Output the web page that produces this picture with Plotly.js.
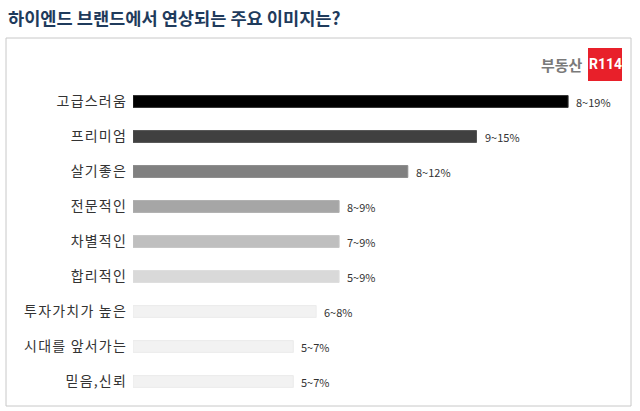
<!DOCTYPE html>
<html>
<head>
<meta charset="utf-8">
<script src="https://cdn.plot.ly/plotly-3.0.1.min.js"></script>
<style>
html,body{margin:0;padding:0;background:#fff;}
#chart{width:640px;height:411px;}
#chart .ytick text{letter-spacing:1.2px;}
</style>
</head>
<body>
<div id="chart"></div>
<script>
var categories = ["고급스러움","프리미엄","살기좋은","전문적인","차별적인","합리적인","투자가치가 높은","시대를 앞서가는","믿음,신뢰"];
var upperValues = [19, 15, 12, 9, 9, 9, 8, 7, 7];
var rangeLabels = ["8~19%","9~15%","8~12%","8~9%","7~9%","5~9%","6~8%","5~7%","5~7%"];
var barColors = ["#000000","#404040","#808080","#a6a6a6","#bfbfbf","#d9d9d9","#f2f2f2","#f2f2f2","#f2f2f2"];
var barEdges = ["#333333","#555555","#8c8c8c","#b0b0b0","#c6c6c6","#dedede","#ececec","#ececec","#ececec"];

var W = 640, H = 411;
var mL = 133, mR = 30, mT = 84, mB = 12;
var pw = W - mL - mR, ph = H - mT - mB;
function px(x){ return (x - mL) / pw; }
function py(y){ return (H - mB - y) / ph; }

var FONT = "Noto Sans CJK KR, Noto Sans, sans-serif";

var trace = {
  type: "bar",
  orientation: "h",
  y: categories,
  x: upperValues,
  marker: {color: barColors, line: {color: barEdges, width: 1}},
  width: 0.34,
  hoverinfo: "none"
};

var annotations = categories.map(function(c, i){
  return {
    x: upperValues[i], y: c, xref: "x", yref: "y",
    text: rangeLabels[i], showarrow: false,
    xanchor: "left", yanchor: "middle", xshift: 6,
    font: {family: FONT, size: 11, color: "#333333"}
  };
});

annotations.push({
  xref: "paper", yref: "paper", x: px(6), y: py(17),
  xanchor: "left", yanchor: "middle", showarrow: false,
  text: "<b>하이엔드 브랜드에서 연상되는 주요 이미지는?</b>",
  font: {family: FONT, size: 17.6, color: "#1f3b5c"}
});
annotations.push({
  xref: "paper", yref: "paper", x: px(585), y: py(64),
  xanchor: "right", yanchor: "middle", showarrow: false,
  text: "<b>부동산</b>",
  font: {family: FONT, size: 15, color: "#7a7a7a"}
});
annotations.push({
  xref: "paper", yref: "paper", x: px(605), y: py(64),
  xanchor: "center", yanchor: "middle", showarrow: false,
  text: "<b>R114</b>",
  font: {family: "Liberation Sans Narrow, Roboto, sans-serif", size: 14, color: "#ffffff"}
});

var shapes = [
  {type: "rect", xref: "paper", yref: "paper",
   x0: px(6), x1: px(631), y0: py(406), y1: py(38),
   line: {color: "#c8c8c8", width: 1}, fillcolor: "rgba(0,0,0,0)", layer: "below"},
  {type: "rect", xref: "paper", yref: "paper",
   x0: px(588), x1: px(622), y0: py(81), y1: py(48),
   line: {width: 0}, fillcolor: "#e8202a", layer: "below"}
];

var layout = {
  width: W, height: H,
  margin: {l: mL, r: mR, t: mT, b: mB, pad: 0},
  paper_bgcolor: "#ffffff",
  plot_bgcolor: "rgba(0,0,0,0)",
  showlegend: false,
  xaxis: {range: [0, pw / 22.9], visible: false, fixedrange: true},
  yaxis: {
    autorange: "reversed", showgrid: false, zeroline: false, showline: false,
    ticks: "", ticklabelstandoff: 5,
    tickfont: {family: FONT, size: 14, color: "#333333"}
  },
  annotations: annotations,
  shapes: shapes
};

Plotly.newPlot("chart", [trace], layout, {displayModeBar: false, staticPlot: true});
</script>
</body>
</html>
